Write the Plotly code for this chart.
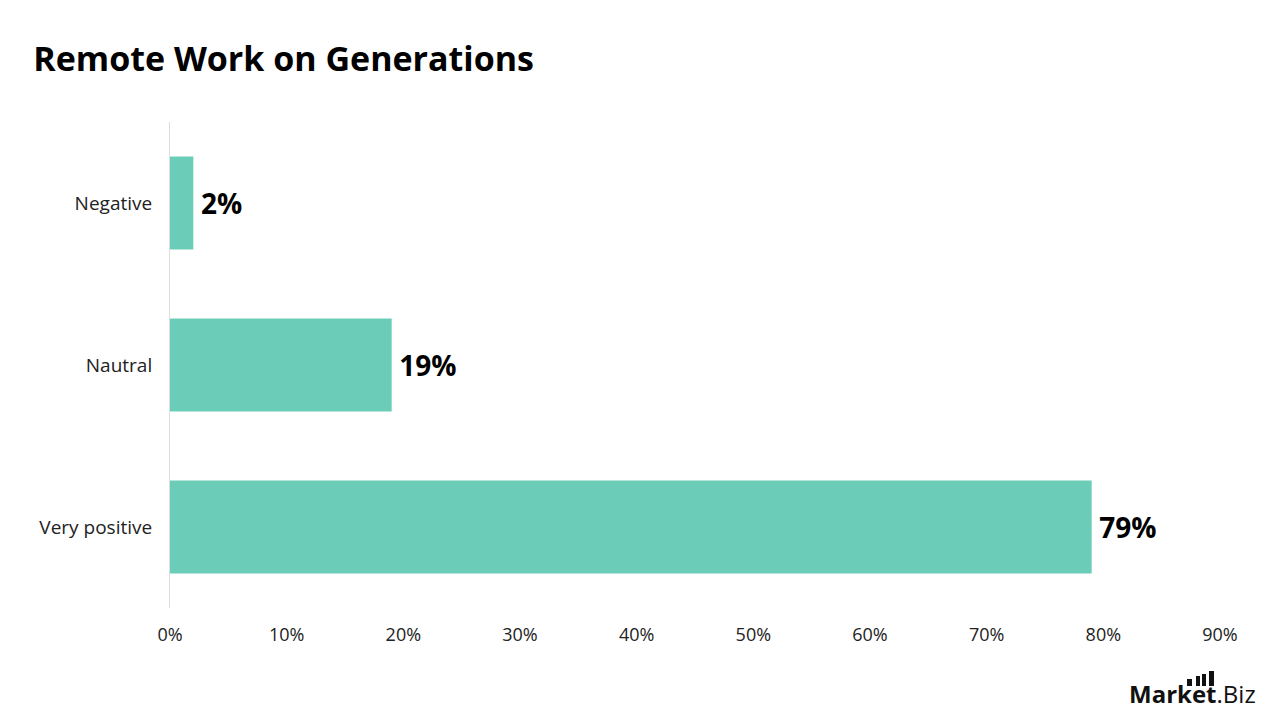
import plotly.graph_objects as go

categories = ["Very positive", "Nautral", "Negative"]
values = [79, 19, 2]
tick_vals = [0, 10, 20, 30, 40, 50, 60, 70, 80, 90]
tick_text = [f"{v}%" for v in tick_vals]

FONT = "Open Sans"
W, H = 1280, 720
ML, MR, MT, MB = 170, 60, 122, 112
PW, PH = W - ML - MR, H - MT - MB


def px(x):
    return (x - ML) / PW


def py(y):
    return (H - MB - y) / PH


fig = go.Figure(go.Bar(
    y=categories, x=values, orientation="h",
    marker=dict(color="#6BCDB8", line=dict(width=0)),
    width=0.574,
    text=[f"<b>\u2009{v}%</b>" for v in values],
    textposition="outside",
    textfont=dict(family=FONT, size=28, color="#000000"),
    cliponaxis=False,
))

# logo bar icon (decoration)
logo_bars = [(1187, 1192, 679), (1196, 1200, 676), (1202, 1206, 674), (1209, 1214, 671)]
shapes = [dict(type="rect", xref="paper", yref="paper",
               x0=px(a), x1=px(b), y0=py(686), y1=py(t),
               fillcolor="#111111", line=dict(width=0))
          for a, b, t in logo_bars]

fig.update_layout(
    width=W, height=H,
    paper_bgcolor="white", plot_bgcolor="white",
    margin=dict(l=ML, r=MR, t=MT, b=MB),
    title=dict(text="<b>Remote Work on Generations</b>", x=0.026, xanchor="left",
               y=0.918, yanchor="middle",
               font=dict(family=FONT, size=34, color="#000000")),
    showlegend=False,
    bargap=0.426,
    xaxis=dict(range=[0, 90], tickvals=tick_vals, ticktext=tick_text,
               showgrid=False, zeroline=False, showline=False,
               tickfont=dict(family=FONT, size=18, color="#222222"),
               ticks="", ticklabelstandoff=14),
    yaxis=dict(showline=True, linecolor="#dddddd", linewidth=1,
               showgrid=False, zeroline=False, ticks="",
               tickfont=dict(family=FONT, size=19, color="#222222"),
               ticklabelstandoff=13),
    shapes=shapes,
    annotations=[dict(text="<b>Market</b>.Biz", xref="paper", yref="paper",
                      x=px(1258), y=py(693),
                      xanchor="right", yanchor="middle", showarrow=False,
                      font=dict(family=FONT, size=24, color="#111111"))],
)

fig.write_html("out.html")
